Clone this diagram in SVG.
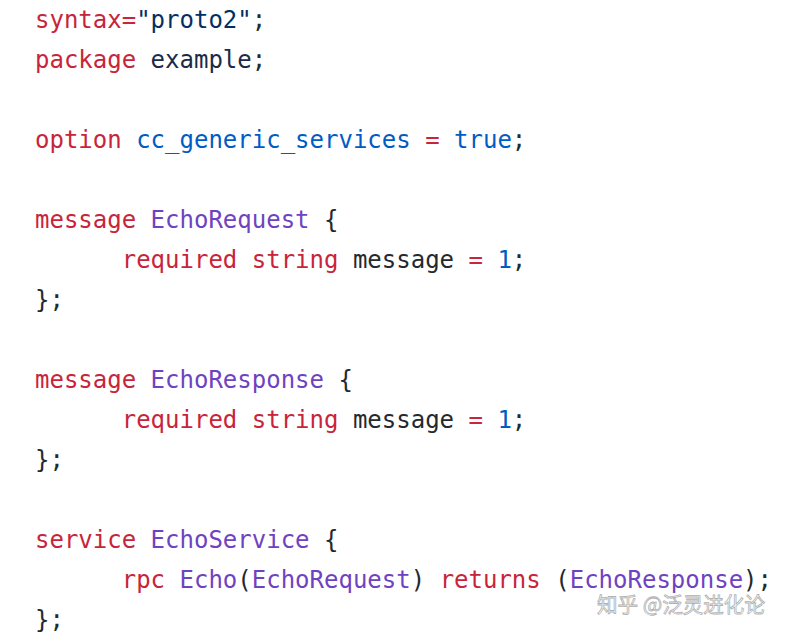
<svg xmlns="http://www.w3.org/2000/svg" width="786" height="636" viewBox="0 0 786 636">
<style>
text{font-family:"DejaVu Sans Mono","Liberation Mono",monospace;font-size:24px;fill:#24292e;white-space:pre}
.k{fill:#c8243a}.t{fill:#6f42c1}.b{fill:#005cc5}.s{fill:#032f62}.n{fill:#1a2b4a}
.w{font-family:"Noto Sans CJK SC",sans-serif;font-size:21px;fill:#ffffff;stroke:#b0b0b0;stroke-width:0.8}
</style>
<rect width="786" height="636" fill="#ffffff"/>
<g id="code">
<text x="35" y="28"><tspan class="k">syntax</tspan><tspan class="k">=</tspan><tspan class="s">"proto2"</tspan>;</text>
<text x="35" y="68"><tspan class="k">package</tspan> <tspan class="n">example</tspan>;</text>
<text x="35" y="148"><tspan class="k">option</tspan> <tspan class="b">cc_generic_services</tspan> <tspan class="k">=</tspan> <tspan class="b">true</tspan>;</text>
<text x="35" y="228"><tspan class="k">message</tspan> <tspan class="t">EchoRequest</tspan> {</text>
<text x="35" y="268">      <tspan class="k">required</tspan> <tspan class="k">string</tspan> message <tspan class="k">=</tspan> <tspan class="b">1</tspan>;</text>
<text x="35" y="308">};</text>
<text x="35" y="388"><tspan class="k">message</tspan> <tspan class="t">EchoResponse</tspan> {</text>
<text x="35" y="428">      <tspan class="k">required</tspan> <tspan class="k">string</tspan> message <tspan class="k">=</tspan> <tspan class="b">1</tspan>;</text>
<text x="35" y="468">};</text>
<text x="35" y="548"><tspan class="k">service</tspan> <tspan class="t">EchoService</tspan> {</text>
<text x="35" y="588">      <tspan class="k">rpc</tspan> <tspan class="t">Echo</tspan>(<tspan class="t">EchoRequest</tspan>) <tspan class="k">returns</tspan> (<tspan class="t">EchoResponse</tspan>);</text>
<text x="35" y="628">};</text>
</g>
<text class="w" x="597" y="612" textLength="168" lengthAdjust="spacingAndGlyphs">知乎 @泛灵进化论</text>
</svg>
